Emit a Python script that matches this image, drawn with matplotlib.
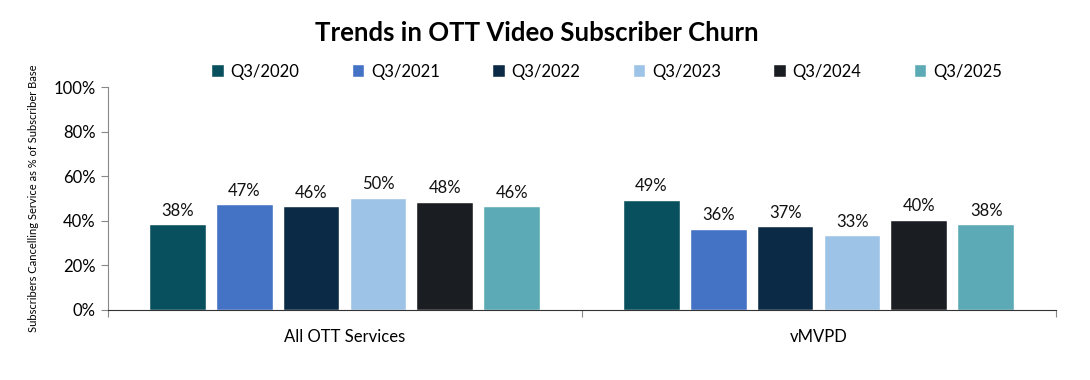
import matplotlib
matplotlib.use("Agg")
import matplotlib.pyplot as plt
import numpy as np

categories = ["All OTT Services", "vMVPD"]
series = ["Q3/2020", "Q3/2021", "Q3/2022", "Q3/2023", "Q3/2024", "Q3/2025"]
values = {
    "Q3/2020": [38, 49],
    "Q3/2021": [47, 36],
    "Q3/2022": [46, 37],
    "Q3/2023": [50, 33],
    "Q3/2024": [48, 40],
    "Q3/2025": [46, 38],
}
colors = ["#08505E", "#4472C4", "#0B2A45", "#9DC3E6", "#1A1D22", "#5BAAB5"]
yticks = [0, 20, 40, 60, 80, 100]

plt.rcParams['font.family'] = ['Lato', 'DejaVu Sans']

fig = plt.figure(figsize=(10.9, 3.8), dpi=100)
ax = fig.add_axes([108/1090, 70/380, 948/1090, 223/380])

x = np.arange(len(categories))
step = 0.1413
width = 0.118
handles = []
for i, s in enumerate(series):
    pos = x + (i - 2.5) * step
    b = ax.bar(pos, values[s], width, color=colors[i], label=s,
               edgecolor="white", linewidth=0.3)
    handles.append(b)
    for px, v in zip(pos, values[s]):
        ax.text(px, v + 3, f"{v}%", ha="center", va="bottom", fontsize=12, color="#111111")

ax.set_xlim(-0.5, 1.5)
ax.set_ylim(0, 100)
ax.set_yticks(yticks)
ax.set_yticklabels([f"{t}%" for t in yticks], fontsize=12)
ax.set_xticks([-0.5, 0.5, 1.5], minor=False)
ax.set_xticklabels(["", "", ""])
ax.set_xticks(x, minor=True)
ax.set_xticklabels(categories, minor=True, fontsize=12)
ax.tick_params(axis="x", which="minor", length=0, pad=14)
ax.tick_params(axis="x", which="major", length=5, color="#888888")
ax.tick_params(axis="y", length=5, color="#888888", pad=4)
for sp in ["top", "right"]:
    ax.spines[sp].set_visible(False)
ax.spines["left"].set_color("#888888")
ax.spines["bottom"].set_color("#333333")
ax.set_ylabel("Subscribers Cancelling Service as % of Subscriber Base", fontsize=8, labelpad=10)

fig.text(537/1090, 1 - 33/380, "Trends in OTT Video Subscriber Churn", ha="center", va="center",
         fontsize=18.5, fontweight="bold")

fig.legend(handles=handles, labels=series, loc="center", bbox_to_anchor=(607/1090, 1 - 72/380),
           ncol=6, frameon=False, fontsize=12, handlelength=0.7, handleheight=0.7,
           handletextpad=0.4, columnspacing=3.2)

fig.savefig("out.png", dpi=100)
